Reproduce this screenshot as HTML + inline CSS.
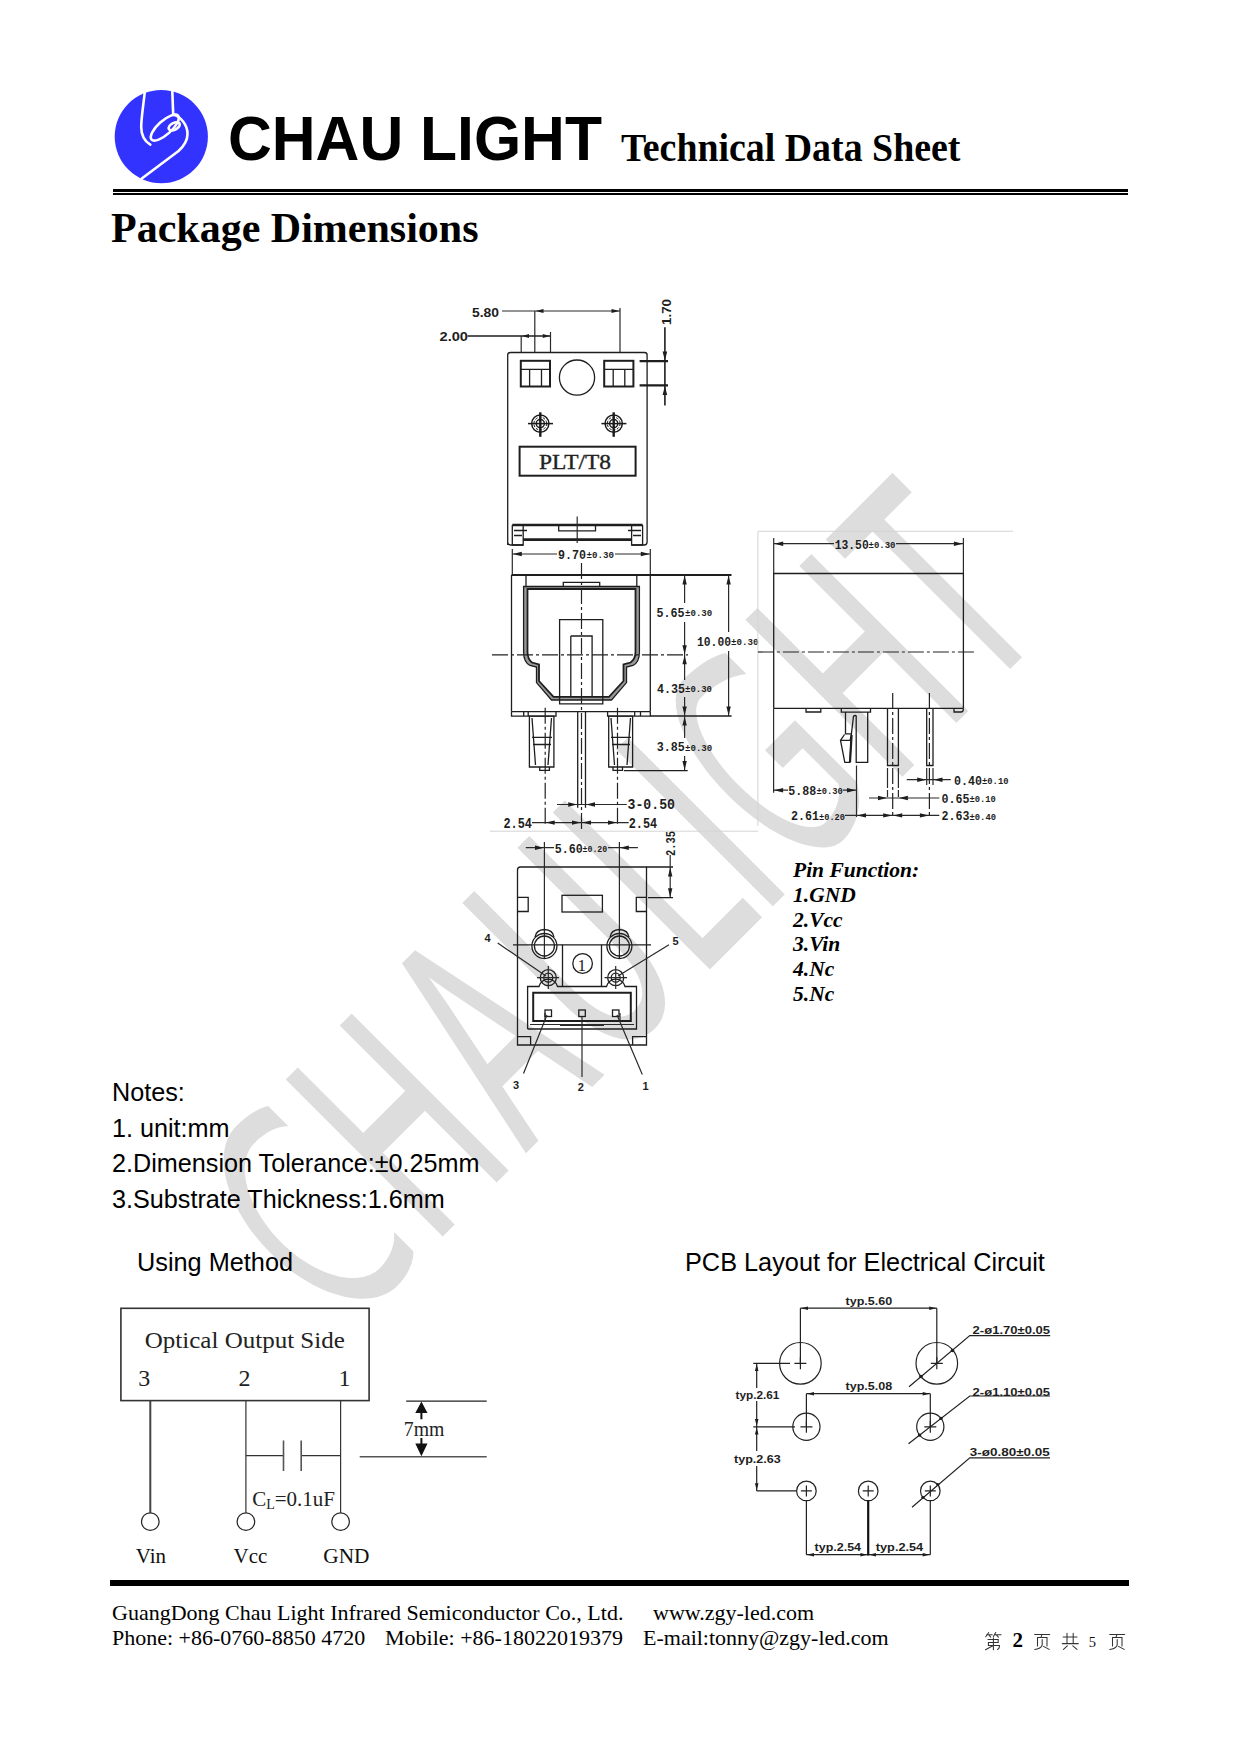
<!DOCTYPE html>
<html><head><meta charset="utf-8">
<style>
html,body{margin:0;padding:0;background:#fff;}
body{width:1240px;height:1754px;position:relative;overflow:hidden;font-family:"Liberation Sans",sans-serif;color:#000;}
.a{position:absolute;white-space:nowrap;line-height:1;}
.serif{font-family:"Liberation Serif",serif;}
.bar{position:absolute;background:#000;}
svg{position:absolute;left:0;top:0;overflow:visible;}
.l{stroke:#1e1e1e;stroke-width:1.3;fill:none;}
.k{stroke:#1e1e1e;stroke-width:2;fill:none;}
.h{stroke:#2a2a2a;stroke-width:1.2;fill:none;}
.g{stroke:#d4d4d4;stroke-width:1;fill:none;}
.cl{stroke:#222;stroke-width:1.2;fill:none;stroke-dasharray:16 3 3 3;}
.ar{fill:#1e1e1e;stroke:none;}
.m{font-family:"Liberation Mono",monospace;fill:#1e1e1e;font-weight:bold;}
.s{font-family:"Liberation Sans",sans-serif;fill:#1e1e1e;}
</style></head><body>

<!-- watermark -->
<svg width="1240" height="1754" viewBox="0 0 1240 1754">
<g transform="translate(346,1331) rotate(-45) scale(1,1.94)" fill="#dddddd">
<path d="M104 -110.4 C95 -113.5 80 -114.7 66.8 -114.7 C30.9 -114.7 1.8 -88.4 1.8 -56 C1.8 -23.8 31.4 2.3 68 2.3 C82 2.3 96 0 104 -4.5 L104 -18.7 C96 -13 80 -10.6 68.3 -10.6 C39.9 -10.6 16.8 -30.9 16.8 -56 C16.8 -81.3 40.3 -101.9 68 -101.9 C82 -101.9 96 -100 104 -95.6 Z"/>
<path d="M747.7 -108.8 C735 -113 715 -114.5 699 -114.5 C671.3 -114.5 648.9 -88.3 648.9 -56 C648.9 -23.8 671.3 2.3 699 2.3 C720 2.3 740 -5 749.4 -14 L749.4 -59 L707 -59 L707 -46 L735 -46 L735 -20 C726 -13 712 -10.6 699 -10.6 C679.4 -10.6 663.5 -30.9 663.5 -56 C663.5 -81.1 679.4 -101.5 699 -101.5 C715 -101.5 735 -99 747.7 -93.5 Z"/>
<text x="122.6 253.8 373.1 464.7 500.3 587.8 738 772.6 896" y="0" font-family="Liberation Sans" font-size="164" stroke="#dddddd" stroke-width="1.6">HAU LI HT</text>
</g>
</svg>

<!-- header -->
<svg width="1240" height="1754" viewBox="0 0 1240 1754">
<circle cx="161.3" cy="136.6" r="46.6" fill="#3333ff"/>
<g stroke="#fff" stroke-width="2.6" fill="none" stroke-linecap="round">
<path d="M144.8 91.5 C143.6 104 141.2 118 141.2 127 C141.3 136 144 141 150.3 144.6"/>
<path d="M172.3 91 L173.2 114.5"/>
<ellipse cx="164.8" cy="127.6" rx="17.8" ry="6.8" transform="rotate(-42 164.8 127.6)"/>
<ellipse cx="174.2" cy="126.3" rx="6" ry="3.4" transform="rotate(-28 174.2 126.3)"/>
<path d="M173.4 114.5 C181 117 187.5 125 187.5 134 C187.5 141 184 146 178.5 151 L141.8 178.5"/>
</g>
</svg>
<div class="a" id="t-chau" style="left:228px;top:107.3px;font-size:63.5px;font-weight:bold;transform:scaleX(0.955);transform-origin:0 0;">CHAU LIGHT</div>
<div class="a serif" id="t-tds" style="left:621px;top:128px;font-size:39px;font-weight:bold;transform:scaleX(0.971);transform-origin:0 0;">Technical Data Sheet</div>
<div class="bar" style="left:113px;top:189px;width:1015px;height:3px"></div>
<div class="bar" style="left:113px;top:193px;width:1015px;height:2px"></div>
<div class="a serif" id="t-pkg" style="left:111px;top:207px;font-size:42px;font-weight:bold;">Package Dimensions</div>

<!-- DRAWING -->
<svg width="1240" height="1754" viewBox="0 0 1240 1754">
<!-- ===== TOP VIEW ===== -->
<path class="l" d="M507.7 545 L507.7 355 Q507.7 352.5 510.5 352.5 L644.5 352.5 Q647.1 352.5 647.1 355 L647.1 542 Q647.1 545 644 545 L631.6 545 M523.2 545 L510.5 545 Q507.7 545 507.7 542"/>
<rect class="k" x="520.8" y="360.8" width="29.2" height="25.7"/>
<path class="l" d="M520.8 369.3 H550 M529.6 369.3 V386.5 M541.5 369.3 V386.5"/>
<rect class="k" x="604.2" y="360.8" width="29.2" height="25.7"/>
<path class="l" d="M604.2 369.3 H633.4 M613.2 369.3 V386.5 M624.8 369.3 V386.5"/>
<circle class="l" cx="577" cy="377.6" r="17.6"/>
<g fill="none" stroke="#1a1a1a">
<circle cx="540.3" cy="423.6" r="8.6" stroke-width="1.5"/><circle cx="540.3" cy="423.6" r="6.4" stroke-width="1" stroke-dasharray="2.5 1.5"/><circle cx="540.3" cy="423.6" r="4.1" stroke-width="1.4"/>
<path d="M528 423.6 H553" stroke-width="1.5"/><path d="M540.3 412.3 V436.8" stroke-width="2.4"/>
<circle cx="613.7" cy="423.6" r="8.6" stroke-width="1.5"/><circle cx="613.7" cy="423.6" r="6.4" stroke-width="1" stroke-dasharray="2.5 1.5"/><circle cx="613.7" cy="423.6" r="4.1" stroke-width="1.4"/>
<path d="M601.4 423.6 H626.4" stroke-width="1.5"/><path d="M613.7 412.3 V436.8" stroke-width="2.4"/>
</g>
<rect class="k" x="519.6" y="446.7" width="116" height="29"/>
<text x="539" y="468.7" font-family="Liberation Serif" font-size="20.5" fill="#222" stroke="#222" stroke-width="0.35" textLength="72" lengthAdjust="spacingAndGlyphs">PLT/T8</text>
<path class="k" d="M512.3 525 H642.6 M523.2 539.6 H631.6" style="stroke-width:2.6"/>
<path class="l" d="M512.3 525 V545 H523.2 V525 M631.6 525 V545 H642.6 V525 M514 530.5 H527 M514 535.5 H522 M628 530.5 H641 M633 535.5 H641 M558.7 525 V530.8 H595.5 V525"/>
<path class="h" d="M577.2 516.6 V543"/>
<!-- dims top -->
<path class="h" d="M502 311 H620 M534.8 311 V352 M620 308 V352"/>
<path class="ar" d="M535.5 311 l8 -2 v4 z M619.5 311 l-8 -2 v4 z"/>
<path class="k" d="M467.5 336 H550.5" style="stroke-width:1.6"/>
<path class="h" d="M521.2 336 V352 M550.5 332 V352"/>
<path class="ar" d="M522 336 l7 -2 v4 z M549.8 336 l-7 -2 v4 z"/>
<text class="s" x="472" y="316.5" font-size="13" font-weight="bold" textLength="27" lengthAdjust="spacingAndGlyphs">5.80</text>
<text class="s" x="439.5" y="341" font-size="13" font-weight="bold" textLength="28.5" lengthAdjust="spacingAndGlyphs">2.00</text>
<path class="k" d="M639.6 361.1 H668 M639.6 385.4 H668" style="stroke-width:2.2"/>
<path class="k" d="M664.9 327.3 V405.6" style="stroke-width:1.6"/>
<path class="ar" d="M664.9 360.6 l-2.3 -9 h4.6 z M664.9 385.9 l-2.3 9 h4.6 z"/>
<text class="s" x="0" y="0" font-size="13" font-weight="bold" transform="translate(670.5,325) rotate(-90)" textLength="26" lengthAdjust="spacingAndGlyphs">1.70</text>
<!-- 9.70 dim -->
<path class="h" d="M512.3 554 H557 M615 554 H650.3 M512.3 549 V575 M650.3 549 V575"/>
<path class="ar" d="M512.8 554 l9 -2.2 v4.4 z M649.8 554 l-9 -2.2 v4.4 z"/>
<text class="m" x="558" y="558.7" font-size="13" textLength="28" lengthAdjust="spacingAndGlyphs">9.70</text>
<text class="m" x="586.5" y="558" font-size="9" textLength="27.5" lengthAdjust="spacingAndGlyphs">±0.30</text>

<!-- ===== FRONT VIEW ===== -->
<path class="l" d="M511.5 711.6 V575 M650.3 711.6 V575"/>
<path class="k" d="M511.5 575 H731.5"/>
<path class="l" d="M511.5 711.6 H650.3 M511.5 711.6 V716.2 H556 V711.6 M607.6 711.6 V716.2 H650.3 V711.6 M523.7 711.6 V716.2 M528.2 711.6 V716.2 M634.7 711.6 V716.2 M640.5 711.6 V716.2"/>
<path class="l" d="M526 575 V586.5 M636.8 575 V586.5 M563.3 586.5 V582.4 H599.7 V586.5"/>
<!-- cup outer -->
<path d="M525.5 587.7 H637.4 V652 Q637.4 660.5 631.7 664 L625 665.8 V681.8 L610.2 698.4 H552.5 L537.7 681.8 V665.8 L531 664 Q525.5 660.5 525.5 652 Z" stroke="#999" stroke-width="3" fill="none"/>
<path class="l" d="M523.6 586.5 H639.4 V652 Q639.4 662 633 665.5 L626.5 667 V682.6 L611.5 700 H551.5 L536.5 682.6 V667 L530 665.5 Q523.6 662 523.6 652 Z"/>
<path class="k" d="M527.5 589 H635.5 V652 Q635.5 659 630.5 662.5 L623.5 664.5 V681 L609 696.8 H553.5 L539 681 V664.5 L532 662.5 Q527.5 659 527.5 652 Z" style="stroke-width:1.8"/>
<path class="l" d="M559.6 619.6 H602.8 V703.9 H559.6 Z M570.8 636 H592.1 V696.8 M570.8 636 V696.8"/>
<path class="cl" d="M581.5 563 V830"/>
<path class="cl" d="M492 654.8 H688"/>
<!-- pins -->
<path class="l" d="M529.4 716.2 H553.9 V767 H529.4 Z M532 718 L535.5 765 M551.5 718 L548 765 M532 737.4 H552 M533 744.5 H551 M539.7 767 V770.3 H549.4 V767"/>
<path class="l" d="M608.7 716.2 H632.6 V767 H608.7 Z M611 718 L614.5 765 M630.5 718 L627 765 M611 737.4 H631 M612 744.5 H630 M613 767 V770.3 H622.5 V767"/>
<path class="l" d="M577.7 711.6 V807.7 M585.5 711.6 V807.7"/>
<path class="cl" d="M545.2 707.7 V826 M617.5 707.7 V826"/>
<!-- dims front right -->
<path class="l" d="M650.3 716 H731.6 M624 770.6 H687.7"/>
<path class="h" d="M684.6 575 V603 M684.6 622 V680 M684.6 697 V738 M684.6 756 V770.6 M728.6 575 V632 M728.6 651 V716"/>
<path class="ar" d="M684.6 575.5 l-2.2 9 h4.4 z M684.6 654.3 l-2.2 -9 h4.4 z M684.6 655.3 l-2.2 9 h4.4 z M684.6 715.5 l-2.2 -9 h4.4 z M684.6 716.5 l-2.2 9 h4.4 z M684.6 770 l-2.2 -9 h4.4 z M728.6 575.5 l-2.2 9 h4.4 z M728.6 715.5 l-2.2 -9 h4.4 z"/>
<text class="m" x="656.4" y="617" font-size="13" textLength="28" lengthAdjust="spacingAndGlyphs">5.65</text>
<text class="m" x="685" y="616.3" font-size="9" textLength="27.3" lengthAdjust="spacingAndGlyphs">±0.30</text>
<text class="m" x="697" y="646" font-size="13" textLength="34" lengthAdjust="spacingAndGlyphs">10.00</text>
<text class="m" x="731" y="645.3" font-size="9" textLength="27.5" lengthAdjust="spacingAndGlyphs">±0.30</text>
<text class="m" x="657" y="692.5" font-size="13" textLength="28" lengthAdjust="spacingAndGlyphs">4.35</text>
<text class="m" x="685" y="691.8" font-size="9" textLength="27" lengthAdjust="spacingAndGlyphs">±0.30</text>
<text class="m" x="656.8" y="751.3" font-size="13" textLength="28" lengthAdjust="spacingAndGlyphs">3.85</text>
<text class="m" x="685" y="750.6" font-size="9" textLength="27.3" lengthAdjust="spacingAndGlyphs">±0.30</text>
<!-- dims front bottom -->
<path class="h" d="M557 804.5 H626.8 M532 822.6 H628.7"/>
<path class="ar" d="M577.2 804.5 l-9 -2.2 v4.4 z M586 804.5 l9 -2.2 v4.4 z M545.7 822.6 l9 -2.2 v4.4 z M581 822.6 l-9 -2.2 v4.4 z M582 822.6 l9 -2.2 v4.4 z M617 822.6 l-9 -2.2 v4.4 z"/>
<text class="m" x="627.5" y="809.3" font-size="14" textLength="47.5" lengthAdjust="spacingAndGlyphs">3-0.50</text>
<text class="m" x="503.5" y="827.5" font-size="14" textLength="28.5" lengthAdjust="spacingAndGlyphs">2.54</text>
<text class="m" x="628.7" y="827.5" font-size="14" textLength="28.5" lengthAdjust="spacingAndGlyphs">2.54</text>
<path class="g" d="M490 831.2 H757.9"/>

<!-- ===== RIGHT VIEW ===== -->
<path class="g" d="M757.9 531.3 H1013 M757.9 531.3 V826"/>
<path class="h" d="M773.7 543.7 H834 M896 543.7 H963.4 M773.7 538 V573.5 M963.4 538 V573.5"/>
<path class="ar" d="M774.2 543.7 l9 -2.2 v4.4 z M962.9 543.7 l-9 -2.2 v4.4 z"/>
<text class="m" x="834.7" y="548.5" font-size="13" textLength="34" lengthAdjust="spacingAndGlyphs">13.50</text>
<text class="m" x="868.5" y="547.8" font-size="9" textLength="27" lengthAdjust="spacingAndGlyphs">±0.30</text>
<path class="l" d="M773.7 708.5 V573.5 H963.4 V708.5"/>
<path class="l" d="M773.7 708.3 H963.4 M806 708.3 V712 H820.8 V708.3 M841.3 708.3 V712.1 H870.5 V708.3 M954 708.3 V712 H961 Q963.4 712 963.4 709"/>
<path class="l" d="M845.5 712.1 V733.9 H851.4 M851.4 733.9 L853.5 716.2 Q854.5 715.2 856.2 715.6 M856.2 715.6 V762.3 H867.7 V712.1 M844.5 734.5 L840.5 740.3 L844.8 762.3 H850 L851.4 733.9 M840.8 740.3 H850.5"/><path d="M850.6 740 L851.6 735 L850 762" stroke="#1e1e1e" stroke-width="2.2" fill="none"/>
<path class="cl" d="M757.9 652 H975.8"/>
<path class="l" d="M887.5 708.5 V765.5 H898.4 V708.5 M926.7 708.5 V765.5 H933 V708.5"/>
<path class="h" d="M887.5 768 V797 M898.4 768 V797 M926.7 768 V785 M933 768 V785" style="stroke-dasharray:20 2"/>
<path class="cl" d="M892.7 693 V817 M929.4 693 V817"/>
<path class="h" d="M773.6 708.5 V792.7 M856.5 765.5 V817"/>
<path class="h" d="M773.6 790.2 H788 M843 790.2 H856.5 M906.8 779.7 H950.8 M869 798 H939.3 M845 815.4 H939.3"/>
<path class="ar" d="M774.1 790.2 l9 -2.2 v4.4 z M856 790.2 l-9 -2.2 v4.4 z M926.2 779.7 l-9 -2.2 v4.4 z M933.5 779.7 l9 -2.2 v4.4 z M887 798 l-9 -2.2 v4.4 z M898.9 798 l9 -2.2 v4.4 z M857 815.4 l9 -2.2 v4.4 z M892.2 815.4 l-9 -2.2 v4.4 z M893.2 815.4 l9 -2.2 v4.4 z M928.9 815.4 l-9 -2.2 v4.4 z"/>
<text class="m" x="788.3" y="795" font-size="13" textLength="28" lengthAdjust="spacingAndGlyphs">5.88</text>
<text class="m" x="816.5" y="794.3" font-size="9" textLength="26.3" lengthAdjust="spacingAndGlyphs">±0.30</text>
<text class="m" x="954" y="784.5" font-size="13" textLength="28" lengthAdjust="spacingAndGlyphs">0.40</text>
<text class="m" x="982" y="783.8" font-size="9" textLength="26.5" lengthAdjust="spacingAndGlyphs">±0.10</text>
<text class="m" x="941.4" y="802.8" font-size="13" textLength="28" lengthAdjust="spacingAndGlyphs">0.65</text>
<text class="m" x="969.5" y="802.1" font-size="9" textLength="26.4" lengthAdjust="spacingAndGlyphs">±0.10</text>
<text class="m" x="791" y="820.2" font-size="13" textLength="28" lengthAdjust="spacingAndGlyphs">2.61</text>
<text class="m" x="819" y="819.5" font-size="9" textLength="26" lengthAdjust="spacingAndGlyphs">±0.20</text>
<text class="m" x="941.4" y="820.2" font-size="13" textLength="28" lengthAdjust="spacingAndGlyphs">2.63</text>
<text class="m" x="969.5" y="819.5" font-size="9" textLength="26.5" lengthAdjust="spacingAndGlyphs">±0.40</text>

<!-- ===== BOTTOM VIEW ===== -->
<path class="l" d="M517.5 1045 V870 Q517.5 867 520.5 867 H646.5 V1045 Z"/>
<path class="l" d="M646.5 867 H673 M648 897.7 H673"/>
<path class="h" d="M670.2 855 V897.7"/>
<path class="ar" d="M670.2 867.5 l-2.2 9 h4.4 z M670.2 897.2 l-2.2 -9 h4.4 z"/>
<text class="m" x="0" y="0" font-size="13" transform="translate(675,856) rotate(-90)" textLength="25" lengthAdjust="spacingAndGlyphs">2.35</text>
<path class="l" d="M517.5 897.4 H528.2 V911.5 H517.5 M646.5 897.4 H636.3 V911.5 H646.5"/>
<rect class="l" x="562" y="895.3" width="40.4" height="16.7"/>
<path class="h" d="M525.8 847.7 H554 M608 847.7 H637.9 M544.4 842 V958 M619.4 842 V958"/>
<path class="ar" d="M544 847.7 l-9 -2.2 v4.4 z M619.8 847.7 l9 -2.2 v4.4 z"/>
<text class="m" x="554.8" y="852.5" font-size="13" textLength="28" lengthAdjust="spacingAndGlyphs">5.60</text>
<text class="m" x="582.5" y="851.8" font-size="9" textLength="24.8" lengthAdjust="spacingAndGlyphs">±0.20</text>
<path class="l" d="M513 944.8 H651"/>
<circle class="l" cx="544.4" cy="946" r="12.5"/><circle class="l" cx="544.4" cy="946" r="10"/>
<path class="l" d="M535 937 Q536 930 544.4 929.5 Q553 930 554 937"/>
<circle class="l" cx="619.4" cy="946" r="12.5"/><circle class="l" cx="619.4" cy="946" r="10"/>
<path class="l" d="M610 937 Q611 930 619.4 929.5 Q628 930 629 937"/>
<path class="l" d="M562.5 944.8 V986.5 M601.5 944.8 V986.5"/>
<circle class="l" cx="582.6" cy="963.5" r="9.8"/>
<text x="577.5" y="970.5" font-family="Liberation Serif" font-size="17" fill="#1e1e1e">1</text>
<circle class="l" cx="548.3" cy="977.7" r="8"/><circle class="l" cx="548.3" cy="977.7" r="4.5"/>
<path class="h" d="M537 977.7 H559 M548.3 966 V989"/>
<circle class="l" cx="615.7" cy="977.7" r="8"/><circle class="l" cx="615.7" cy="977.7" r="4.5"/>
<path class="h" d="M604.5 977.7 H627 M615.7 966 V989"/>
<path class="l" d="M527.6 1029 V986.5 H539 A9.5 9.5 0 0 1 557.5 986.5 H606.5 A9.5 9.5 0 0 1 625 986.5 H636.5 V1029 H527.6"/>
<path class="k" d="M533.2 992.7 H630.8 V1021 H533.2 Z"/>
<path class="h" d="M530 1024.5 H634 M560 1025.5 H604 M545 1013 V1020 M620 1013 V1020"/>
<rect class="l" x="545" y="1010" width="6.5" height="6.5"/><rect class="l" x="578.8" y="1010" width="6.5" height="6.5"/><rect class="l" x="612.5" y="1010" width="6.5" height="6.5"/>
<path class="l" d="M517.5 1036.7 H530.6 V1045 M646.5 1036.7 H632.6 V1045"/>
<path class="h" d="M497.7 943 L546 976 M669 944.8 L618 976 M523.5 1073.5 L547 1015 M582 1016.5 V1077 M642.3 1074.4 L617 1015"/>
<text class="s" x="484.5" y="942" font-size="11" font-weight="bold">4</text>
<text class="s" x="672.5" y="945" font-size="11" font-weight="bold">5</text>
<text class="s" x="513" y="1088.5" font-size="11" font-weight="bold">3</text>
<text class="s" x="577.8" y="1091" font-size="11" font-weight="bold">2</text>
<text class="s" x="642.5" y="1089.5" font-size="11" font-weight="bold">1</text>
</svg>
<!-- pin function -->
<div class="a" style="left:785px;top:852px;width:201.5px;height:165.5px;background:#fff;"></div>
<div class="a serif" id="t-pinf" style="left:793px;top:858px;font-size:21.5px;line-height:24.8px;font-weight:bold;font-style:italic;">Pin Function:<br>1.GND<br>2.Vcc<br>3.Vin<br>4.Nc<br>5.Nc</div>

<!-- notes -->
<div class="a" id="t-notes" style="left:112px;top:1075px;font-size:25.2px;line-height:35.6px;">Notes:<br>1. unit:mm<br>2.Dimension Tolerance:±0.25mm<br>3.Substrate Thickness:1.6mm</div>
<div class="a" id="t-using" style="left:137px;top:1250px;font-size:25.3px;">Using Method</div>
<div class="a" id="t-pcb" style="left:685px;top:1250px;font-size:25.3px;">PCB Layout for Electrical Circuit</div>

<!-- USING -->
<svg width="1240" height="1754" viewBox="0 0 1240 1754">
<rect x="120.9" y="1308.3" width="248.2" height="92.3" fill="none" stroke="#333" stroke-width="1.6"/>
<text x="144.8" y="1347.5" font-family="Liberation Serif" font-size="24" fill="#222" textLength="200" lengthAdjust="spacingAndGlyphs">Optical Output Side</text>
<text x="138.3" y="1386" font-family="Liberation Serif" font-size="24" fill="#222">3</text>
<text x="238.5" y="1386" font-family="Liberation Serif" font-size="24" fill="#222">2</text>
<text x="338.5" y="1386" font-family="Liberation Serif" font-size="24" fill="#222">1</text>
<path d="M150.3 1400.6 V1512.8" stroke="#444" stroke-width="2" fill="none"/>
<path d="M245.9 1400.6 V1512.8 M340.6 1400.6 V1512.8 M245.9 1455.6 H283.5 M301.2 1455.6 H340.6" stroke="#333" stroke-width="1.2" fill="none"/>
<path d="M283.5 1440.4 V1471 M301.2 1440.4 V1471" stroke="#555" stroke-width="1.6" fill="none"/>
<circle cx="150.3" cy="1521.6" r="8.8" fill="none" stroke="#222" stroke-width="1.2"/>
<circle cx="245.9" cy="1521.6" r="8.8" fill="none" stroke="#222" stroke-width="1.2"/>
<circle cx="340.6" cy="1521.6" r="8.8" fill="none" stroke="#222" stroke-width="1.2"/>
<text x="252.2" y="1505.6" font-family="Liberation Serif" font-size="21" fill="#222">C<tspan font-size="14" dy="3">L</tspan><tspan dy="-3">=0.1uF</tspan></text>
<text x="135.8" y="1563.1" font-family="Liberation Serif" font-size="21.5" fill="#111" textLength="30.2" lengthAdjust="spacingAndGlyphs">Vin</text>
<text x="233.6" y="1563.1" font-family="Liberation Serif" font-size="21.5" fill="#111" textLength="33.7" lengthAdjust="spacingAndGlyphs">Vcc</text>
<text x="323.3" y="1563.1" font-family="Liberation Serif" font-size="21.5" fill="#111" textLength="46.2" lengthAdjust="spacingAndGlyphs">GND</text>
<path d="M406.2 1401.2 H486.7" stroke="#222" stroke-width="1.3" fill="none"/>
<path d="M359.7 1456.8 H486.7" stroke="#555" stroke-width="1.5" fill="none"/>
<path d="M421.4 1412 V1419.3 M421.4 1438 V1445" stroke="#111" stroke-width="2" fill="none"/>
<path d="M421.4 1401.5 L415.3 1413 H427.5 Z M421.4 1456.3 L415.3 1443.5 H427.5 Z" fill="#111"/>
<text x="403.8" y="1436.2" font-family="Liberation Serif" font-size="20.5" fill="#222" textLength="40.6" lengthAdjust="spacingAndGlyphs">7mm</text>
</svg>

<!-- PCB -->
<svg width="1240" height="1754" viewBox="0 0 1240 1754">
<g fill="none" stroke="#222" stroke-width="1.2">
<circle cx="800.4" cy="1363.3" r="20.8"/><circle cx="936.8" cy="1363.3" r="20.8"/>
<circle cx="806.4" cy="1426.8" r="13.6"/><circle cx="930.3" cy="1426.8" r="13.6"/>
<circle cx="806.4" cy="1490.9" r="9.8"/><circle cx="868.2" cy="1490.9" r="9.8"/><circle cx="930.3" cy="1490.9" r="9.8"/>
<path d="M794.4 1363.3 H806.4 M800.4 1357.3 V1369.3 M930.8 1363.3 H942.8 M936.8 1357.3 V1369.3"/>
<path d="M800.4 1426.8 H812.4 M806.4 1420.8 V1432.8 M924.3 1426.8 H936.3 M930.3 1420.8 V1432.8"/>
<path d="M800.9 1490.9 H811.9 M806.4 1485.4 V1496.4 M862.7 1490.9 H873.7 M868.2 1485.4 V1496.4 M924.8 1490.9 H935.8 M930.3 1485.4 V1496.4"/>
<path d="M800.4 1308.2 V1363.3 M936.8 1308.2 V1363.3 M800.4 1308.2 H936.8"/>
<path d="M806.4 1393.7 V1426.8 M930.3 1393.7 V1426.8 M806.4 1393.7 H930.3"/>
<path d="M753.3 1363.3 H790 M753.3 1426.8 H795 M756.7 1490.9 H796.6 M756.7 1363.3 V1388 M756.7 1401 V1451 M756.7 1466 V1490.9"/>
<path d="M806.4 1500.7 V1554.7 M930.3 1500.7 V1554.7 M806.4 1554.7 H930.3"/>
<path d="M909 1386.7 L969.8 1335.6 H1050.2 M908.5 1443.7 L969.8 1396 H1050 M912 1507.3 L969.8 1457.9 H1050"/>
</g>
<path d="M868.2 1500.7 V1555.5" stroke="#111" stroke-width="2.2" fill="none"/>
<path class="ar" d="M801 1308.2 l7 -1.8 v3.6 z M936.2 1308.2 l-7 -1.8 v3.6 z M807 1393.7 l7 -1.8 v3.6 z M929.7 1393.7 l-7 -1.8 v3.6 z M807 1554.7 l7 -1.8 v3.6 z M867.4 1554.7 l-7 -1.8 v3.6 z M869 1554.7 l7 -1.8 v3.6 z M929.7 1554.7 l-7 -1.8 v3.6 z M756.7 1364 l-1.8 7 h3.6 z M756.7 1426 l-1.8 -7 h3.6 z M756.7 1427.6 l-1.8 7 h3.6 z M756.7 1490.2 l-1.8 -7 h3.6 z"/>
<circle class="ar" cx="952.5" cy="1350.5" r="1.8"/><circle class="ar" cx="921" cy="1376.5" r="1.8"/><circle class="ar" cx="941" cy="1418.4" r="1.7"/><circle class="ar" cx="919.6" cy="1435.1" r="1.7"/><circle class="ar" cx="937.8" cy="1484.5" r="1.6"/><circle class="ar" cx="922.9" cy="1497.3" r="1.6"/>
<text class="s" x="845.6" y="1304.5" font-size="11" font-weight="bold" textLength="46.6" lengthAdjust="spacingAndGlyphs">typ.5.60</text>
<text class="s" x="845.6" y="1390" font-size="11" font-weight="bold" textLength="46.6" lengthAdjust="spacingAndGlyphs">typ.5.08</text>
<text class="s" x="735.5" y="1399.3" font-size="11" font-weight="bold" textLength="43.8" lengthAdjust="spacingAndGlyphs">typ.2.61</text>
<text class="s" x="734" y="1462.8" font-size="11" font-weight="bold" textLength="46.7" lengthAdjust="spacingAndGlyphs">typ.2.63</text>
<text class="s" x="814.6" y="1551" font-size="11" font-weight="bold" textLength="46.4" lengthAdjust="spacingAndGlyphs">typ.2.54</text>
<text class="s" x="875.8" y="1551" font-size="11" font-weight="bold" textLength="47.4" lengthAdjust="spacingAndGlyphs">typ.2.54</text>
<text class="s" x="972.6" y="1334.3" font-size="11" font-weight="bold" textLength="77.4" lengthAdjust="spacingAndGlyphs">2-ø1.70±0.05</text>
<text class="s" x="972.6" y="1395.6" font-size="11" font-weight="bold" textLength="77.4" lengthAdjust="spacingAndGlyphs">2-ø1.10±0.05</text>
<text class="s" x="969.8" y="1455.7" font-size="11" font-weight="bold" textLength="79.9" lengthAdjust="spacingAndGlyphs">3-ø0.80±0.05</text>
</svg>

<!-- footer -->
<div class="bar" style="left:110px;top:1580px;width:1019px;height:6px"></div>
<div class="a serif" id="t-f1" style="left:112px;top:1601.7px;font-size:22px;">GuangDong Chau Light Infrared Semiconductor Co., Ltd.</div>
<div class="a serif" id="t-f1b" style="left:653px;top:1601.7px;font-size:22px;">www.zgy-led.com</div>
<div class="a serif" id="t-f2" style="left:112px;top:1626.7px;font-size:22px;">Phone: +86-0760-8850 4720</div>
<div class="a serif" id="t-f2b" style="left:385px;top:1626.7px;font-size:22px;">Mobile: +86-18022019379</div>
<div class="a serif" id="t-f2c" style="left:643px;top:1626.7px;font-size:22px;">E-mail:tonny@zgy-led.com</div>
<svg width="1240" height="1754" viewBox="0 0 1240 1754">
<g fill="none" stroke="#333" stroke-width="1.05" stroke-linecap="round">
<g transform="translate(985.2,1632.2)">
<path d="M3.5 0.3 L0.5 4.5 M1.5 2.6 H7 M4 3.2 L5.5 5 M10.5 0.3 L8.2 4.3 M9.2 2.6 H15.8 M11.5 3.2 L13.2 5"/>
<path d="M2.8 7.3 H13 V10.3 H3.2 V13.3 H14.3 Q14.3 16.5 12.3 17.3"/>
<path d="M8.2 5.5 V17.6 M7.6 13.5 L0.3 17.6"/>
</g>
<g transform="translate(1034.2,1633.4)">
<path d="M0.5 1 H15.5 M7.8 1 L6.8 4 M3.3 4 V12.5 M3.3 4 H12.8 V12.5 M8 6 V11.5 M7.8 12 Q6 15.5 0.5 16.1 M9.2 13 L15 16"/>
</g>
<g transform="translate(1062,1632.8)">
<path d="M5 0.5 V10.8 M11.2 0.5 V10.8 M1.2 4.2 H15 M0.3 10.8 H16.3 M5.3 13 L1.5 16.6 M10.8 13 L15 16.6"/>
</g>
<g transform="translate(1109.2,1633.4)">
<path d="M0.5 1 H15.5 M7.8 1 L6.8 4 M3.3 4 V12.5 M3.3 4 H12.8 V12.5 M8 6 V11.5 M7.8 12 Q6 15.5 0.5 16.1 M9.2 13 L15 16"/>
</g>
</g>
<text x="1012.6" y="1646.8" font-family="Liberation Serif" font-size="21" font-weight="bold" fill="#000">2</text>
<text x="1088.8" y="1646.8" font-family="Liberation Serif" font-size="14.5" fill="#111">5</text>
</svg>

</body></html>
